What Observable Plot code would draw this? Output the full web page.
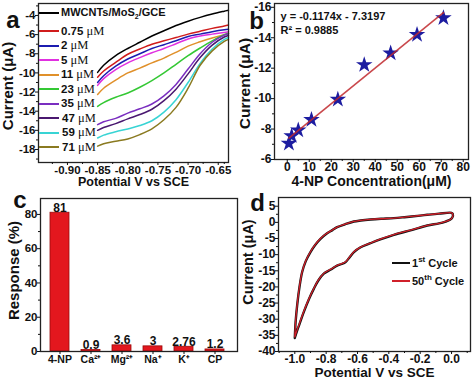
<!DOCTYPE html>
<html><head><meta charset="utf-8">
<script src="https://cdn.jsdelivr.net/npm/d3@7"></script>
<script src="https://cdn.jsdelivr.net/npm/@observablehq/plot@0.6"></script>
<style>
body{margin:0;background:#fff}
#fig{position:relative;width:474px;height:380px;background:#fff;overflow:hidden;font-family:'Liberation Sans',Arial,sans-serif;font-weight:bold;color:#111}
#fig svg{background:transparent;overflow:visible}
.lg{position:absolute;white-space:nowrap;line-height:1}
.sw{position:absolute;height:0;border-top:2px solid}
.mu{font-family:'Liberation Serif','Times New Roman',serif;font-weight:normal;font-size:12.5px}
</style></head><body><div id="fig"></div>
<script>
const font = "'Liberation Sans', Arial, sans-serif";
const fig = document.getElementById("fig");
function place(node, left, top) { node.style.position = "absolute"; node.style.left = left + "px"; node.style.top = top + "px"; fig.appendChild(node); return node; }

// ---------- Panel a data ----------
const aVoltage = [-0.85, -0.84, -0.82, -0.80, -0.78, -0.76, -0.74, -0.72, -0.70, -0.68, -0.66, -0.64, -0.633];
const aBare = [-9.95, -9.2, -8.2, -7.45, -6.8, -6.15, -5.6, -5.05, -4.6, -4.2, -3.85, -3.55, -3.45];
const a075 = [-10.45, -9.8, -8.9, -8.05, -7.5, -7.0, -6.65, -6.3, -5.95, -5.65, -5.35, -5.1, -5.0];
const a2 = [-11.0, -10.3, -9.3, -8.55, -8.0, -7.45, -7.05, -6.65, -6.2, -5.95, -5.7, -5.5, -5.45];
const a5 = [-11.3, -10.6, -9.65, -8.95, -8.4, -7.9, -7.45, -6.95, -6.45, -6.15, -5.95, -5.78, -5.7];
const a11 = [-12.25, -11.6, -10.75, -10.0, -9.5, -8.95, -8.45, -7.85, -7.2, -6.75, -6.35, -6.0, -5.9];
const a23 = [-13.5, -13.1, -12.55, -12.1, -11.5, -10.8, -10.0, -9.1, -8.2, -7.4, -6.65, -6.0, -5.85];
const a35 = [-15.4, -15.1, -14.75, -14.2, -13.75, -13.25, -12.4, -11.2, -9.6, -8.0, -6.8, -6.05, -5.9];
const a47 = [-16.0, -15.7, -15.3, -14.8, -14.35, -13.8, -12.9, -11.7, -10.1, -8.4, -7.1, -6.25, -6.1];
const a59 = [-16.8, -16.5, -16.15, -15.85, -15.5, -15.0, -14.1, -12.8, -11.0, -9.0, -7.5, -6.5, -6.3];
const a71 = [-17.65, -17.4, -17.15, -16.9, -16.45, -15.85, -14.9, -13.6, -11.6, -9.2, -7.7, -6.7, -6.5];
const aNames = ["MWCNTs/MoS2/GCE", "0.75 μM", "2 μM", "5 μM", "11 μM", "23 μM", "35 μM", "47 μM", "59 μM", "71 μM"];
const aColors = ["#000000", "#d01c1c", "#1c1cb0", "#e030e0", "#e0902a", "#34c834", "#7a2ec0", "#4a1870", "#38d4d4", "#8a7a20"];
const aXTicks = [-0.90, -0.85, -0.80, -0.75, -0.70, -0.65];
const aXMinor = [-0.925, -0.875, -0.825, -0.775, -0.725, -0.675, -0.64];
const aYTicks = [-4, -6, -8, -10, -12, -14, -16, -18];
const aYMinor = [-3, -5, -7, -9, -11, -13, -15, -17, -19];

// ---------- Panel b data ----------
const bConc = [0.75, 2, 5, 11, 23, 35, 47, 59, 71];
const bCurrent = [-7.05, -7.55, -7.92, -8.62, -9.95, -12.22, -12.99, -14.2, -15.3];
const bFitX = [0.75, 71];
const bFitY = [-7.41, -15.65];
const bXTicks = [0, 10, 20, 30, 40, 50, 60, 70, 80];
const bXMinor = [5, 15, 25, 35, 45, 55, 65, 75];
const bYTicks = [-6, -8, -10, -12, -14, -16];
const bYMinor = [-7, -9, -11, -13, -15];

// ---------- Panel c data ----------
const cIons = ["4-NP", "Ca²⁺", "Mg²⁺", "Na⁺", "K⁺", "CP"];
const cResponse = [81, 0.9, 3.6, 3, 2.76, 1.2];
const cLabels = ["81", "0.9", "3.6", "3", "2.76", "1.2"];
const cYTicks = [0, 20, 40, 60, 80];
const cYMinor = [10, 30, 50, 70];

// ---------- Panel d data ----------
const dPotential = [-1.0, -0.995, -0.985, -0.97, -0.953, -0.93, -0.9, -0.87, -0.836, -0.8, -0.76, -0.73, -0.68, -0.623, -0.58, -0.517, -0.45, -0.368, -0.3, -0.2, -0.155, -0.08, 0.0, 0.008, 0.005, -0.01, -0.038, -0.08, -0.155, -0.25, -0.368, -0.45, -0.517, -0.58, -0.623, -0.65, -0.676, -0.70, -0.73, -0.77, -0.815, -0.85, -0.879, -0.91, -0.943, -0.97, -0.985, -1.0];
const dCycle1 = [-35.8, -31.0, -25.7, -20.0, -15.4, -12.0, -9.2, -7.0, -5.1, -3.6, -2.4, -1.5, -0.6, 0.26, 0.57, 0.88, 1.1, 1.3, 1.6, 2.1, 2.34, 2.7, 2.95, 2.6, 1.5, 0.8, 0.26, -0.3, -0.98, -2.3, -3.86, -5.2, -6.45, -7.7, -9.2, -10.8, -12.3, -12.9, -13.4, -14.6, -15.9, -18.0, -20.6, -23.8, -27.8, -31.5, -33.5, -35.8];
const dCycle50 = [-35.5, -30.8, -25.5, -19.8, -15.3, -11.9, -9.1, -6.9, -5.0, -3.55, -2.35, -1.45, -0.55, 0.3, 0.6, 0.9, 1.12, 1.32, 1.62, 2.12, 2.36, 2.72, 2.97, 2.62, 1.5, 0.8, 0.28, -0.28, -0.95, -2.25, -3.8, -5.15, -6.4, -7.65, -9.1, -10.7, -12.2, -12.8, -13.3, -14.5, -15.8, -17.9, -20.5, -23.7, -27.6, -31.3, -33.3, -35.5];
const dXTicks = [-1.0, -0.8, -0.6, -0.4, -0.2, 0.0];
const dXMinor = [-1.1, -0.9, -0.7, -0.5, -0.3, -0.1, 0.1];
const dYTicks = [5, 0, -5, -10, -15, -20, -25, -30, -35, -40];
const dYMinor = [2.5, -2.5, -7.5, -12.5, -17.5, -22.5, -27.5, -32.5, -37.5];

const baseStyle = (fs) => ({fontFamily: font, fontWeight: "bold", fontSize: fs, color: "#111", background: "transparent", overflow: "visible"});
const lbl = (s, o) => Plot.text([s], {text: d => d, textAnchor: "middle", lineAnchor: "middle", ...o});

// ---------- Panel a ----------
const aRows = [aBare, a075, a2, a5, a11, a23, a35, a47, a59, a71].flatMap((vals, k) => vals.map((c, i) => ({name: aNames[k], v: aVoltage[i], c})));
const plotA = Plot.plot({
  width: 237, height: 190, marginLeft: 38, marginRight: 9, marginTop: 3, marginBottom: 28,
  style: baseStyle("11.5px"),
  x: {domain: [-0.948, -0.633], axis: null, label: null},
  y: {domain: [-19.36, -2.75], axis: null, label: null},
  color: {domain: aNames, range: aColors},
  marks: [
    Plot.line(aRows, {x: "v", y: "c", z: "name", stroke: "name", strokeWidth: 1.5, curve: "catmull-rom"}),
    Plot.frame({stroke: "#222", strokeWidth: 1.3}),
    Plot.axisX(aXTicks, {anchor: "bottom", tickSize: 3, tickPadding: 0, tickFormat: d => d.toFixed(2), label: null}),
    Plot.axisX(aXMinor, {anchor: "bottom", tickSize: 2, tickFormat: () => "", label: null}),
    Plot.axisY(aYTicks, {anchor: "left", tickSize: 3, tickPadding: 0, tickFormat: d => String(d), label: null}),
    Plot.axisY(aYMinor, {anchor: "left", tickSize: 2, tickFormat: () => "", label: null}),
    lbl("Potential V vs SCE", {frameAnchor: "bottom", dy: 19, fontSize: 12.5}),
    lbl("Current (μA)", {frameAnchor: "left", dx: -30, dy: 3, rotate: -90, fontSize: 15}),
    lbl("a", {frameAnchor: "top-left", dx: -25.5, dy: 17, fontSize: 24})
  ]
});
place(plotA, 0, 0);
// legend a
const aLegY = [13, 31, 45.5, 60, 74.5, 89, 103.5, 118, 132.5, 147];
aNames.forEach((n, k) => {
  const sw = document.createElement("div"); sw.className = "sw";
  sw.style.borderTopColor = aColors[k]; sw.style.width = "20px";
  place(sw, 39, aLegY[k] - 1);
  const t = document.createElement("div"); t.className = "lg";
  if (k === 0) { t.innerHTML = 'MWCNTs/MoS<sub style="font-size:7px">2</sub>/GCE'; t.style.fontSize = "11px"; }
  else { const [num] = n.split(" "); t.innerHTML = `${num} <span class="mu">μM</span>`; t.style.fontSize = "11.5px"; }
  place(t, k === 7 || k === 8 || k === 9 ? 62 : 61, aLegY[k] - 6.5);
});

// ---------- Panel b ----------
const plotB = Plot.plot({
  width: 237, height: 190, marginLeft: 37, marginRight: 6, marginTop: 3, marginBottom: 31,
  style: baseStyle("12px"),
  x: {domain: [-5.8, 82.4], axis: null, label: null},
  y: {domain: [-6, -16.25], axis: null, label: null},
  marks: [
    Plot.frame({stroke: "#222", strokeWidth: 1.3}),
    Plot.axisX(bXTicks, {anchor: "bottom", tickSize: 3, tickPadding: 0, tickFormat: d => String(d), label: null}),
    Plot.axisX(bXMinor, {anchor: "bottom", tickSize: 2, tickFormat: () => "", label: null}),
    Plot.axisY(bYTicks, {anchor: "left", tickSize: 3, tickPadding: 0, tickFormat: d => String(d), label: null}),
    Plot.axisY(bYMinor, {anchor: "left", tickSize: 2, tickFormat: () => "", label: null}),
    Plot.dot(bConc, {x: d => d, y: (d, i) => bCurrent[i], symbol: "star", r: 5.2, fill: "#1c1ca0", stroke: "none"}),
    Plot.line(bFitX, {x: d => d, y: (d, i) => bFitY[i], stroke: "#c0282d", strokeWidth: 1.6, strokeOpacity: 0.85}),
    lbl("y = -0.1174x - 7.3197", {frameAnchor: "top-left", dx: 6, dy: 13, textAnchor: "start", fontSize: 11}),
    lbl("R² = 0.9885", {frameAnchor: "top-left", dx: 6, dy: 27, textAnchor: "start", fontSize: 11}),
    lbl("4-NP Concentration(μM)", {frameAnchor: "bottom", dy: 22.5, fontSize: 14}),
    lbl("Current (μA)", {frameAnchor: "left", dx: -29, dy: 2, rotate: -90, fontSize: 15.5}),
    lbl("b", {frameAnchor: "top-left", dx: -18, dy: 18, fontSize: 24})
  ]
});
place(plotB, 237, 0);

// ---------- Panel c ----------
const plotC = Plot.plot({
  width: 238, height: 190, marginLeft: 40, marginRight: 1, marginTop: 8, marginBottom: 29,
  style: baseStyle("11px"),
  x: {domain: cIons, paddingInner: 0.4, paddingOuter: 0.2, insetLeft: 2, insetRight: 6, axis: null, label: null},
  y: {domain: [0, 89.3], axis: null, label: null},
  marks: [
    Plot.barY(cIons, {x: d => d, y: (d, i) => cResponse[i], fill: "#e3171e", stroke: "#9a0a0a", strokeWidth: 0.8}),
    Plot.text(cIons, {x: d => d, y: (d, i) => cResponse[i], text: (d, i) => cLabels[i], lineAnchor: "bottom", dy: -1, fontSize: 12}),
    Plot.frame({stroke: "#222", strokeWidth: 1.3}),
    Plot.axisX(cIons, {anchor: "bottom", tickSize: 3, tickPadding: 1, fontSize: 10.5, label: null}),
    Plot.axisY(cYTicks, {anchor: "left", tickSize: 3, tickPadding: 0, tickFormat: d => String(d), fontSize: 11.5, label: null}),
    Plot.axisY(cYMinor, {anchor: "left", tickSize: 2, tickFormat: () => "", label: null}),
    lbl("Response (%)", {frameAnchor: "left", dx: -26, dy: -4.5, rotate: -90, fontSize: 15}),
    lbl("c", {frameAnchor: "top-left", dx: -20.5, dy: 2, fontSize: 24})
  ]
});
place(plotC, 0, 190);

// ---------- Panel d ----------
const plotD = Plot.plot({
  width: 237, height: 190, marginLeft: 41, marginRight: 4, marginTop: 7, marginBottom: 29,
  style: baseStyle("12px"),
  x: {domain: [-1.104, 0.121], axis: null, label: null},
  y: {domain: [-40, 7.7], axis: null, label: null},
  marks: [
    Plot.line(dPotential, {x: d => d, y: (d, i) => dCycle1[i], stroke: "#111", strokeWidth: 2.4, curve: "catmull-rom"}),
    Plot.line(dPotential, {x: d => d, y: (d, i) => dCycle50[i], stroke: "#d0202a", strokeWidth: 1.3, curve: "catmull-rom"}),
    Plot.frame({stroke: "#222", strokeWidth: 1.3}),
    Plot.axisX(dXTicks, {anchor: "bottom", tickSize: 3, tickPadding: 0, tickFormat: d => d.toFixed(1), label: null}),
    Plot.axisX(dXMinor, {anchor: "bottom", tickSize: 2, tickFormat: () => "", label: null}),
    Plot.axisY(dYTicks, {anchor: "left", tickSize: 3, tickPadding: 0, tickFormat: d => String(d), label: null}),
    Plot.axisY(dYMinor, {anchor: "left", tickSize: 2, tickFormat: () => "", label: null}),
    lbl("Potential V vs SCE", {frameAnchor: "bottom", dy: 21, fontSize: 13.5}),
    lbl("Current (μA)", {frameAnchor: "left", dx: -30, dy: -12.5, rotate: -90, fontSize: 14.5}),
    lbl("d", {frameAnchor: "top-left", dx: -21, dy: 5.5, fontSize: 24})
  ]
});
place(plotD, 237, 190);
// legend d
const dNames = ["1<sup style='font-size:8px'>st</sup> Cycle", "50<sup style='font-size:8px'>th</sup> Cycle"];
const dColors = ["#111", "#d0202a"];
const dLegY = [263, 281];
dNames.forEach((n, k) => {
  const sw = document.createElement("div"); sw.className = "sw";
  sw.style.borderTopColor = dColors[k]; sw.style.width = "18px";
  place(sw, 392, dLegY[k] - 1);
  const t = document.createElement("div"); t.className = "lg"; t.style.fontSize = "11px";
  t.innerHTML = n;
  place(t, 412, dLegY[k] - 7);
});
</script></body></html>
